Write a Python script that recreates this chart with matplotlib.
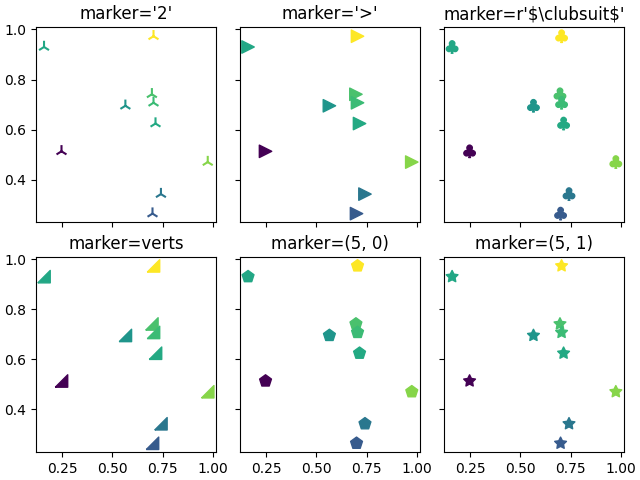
import matplotlib
matplotlib.use("Agg")
import matplotlib.pyplot as plt

# point positions
x = [0.705, 0.16, 0.697, 0.705, 0.565, 0.715, 0.247, 0.975, 0.742, 0.70]
y = [0.973, 0.93, 0.741, 0.707, 0.695, 0.624, 0.513, 0.47, 0.342, 0.264]
# colour values (distance from origin)
z = [1.197, 0.944, 1.017, 0.998, 0.896, 0.949, 0.569, 1.083, 0.817, 0.748]

verts = [[-1, -1], [1, -1], [1, 1], [-1, -1]]

markers = ['2', '>', r'$\clubsuit$', verts, (5, 0), (5, 1)]
titles = ["marker='2'", "marker='>'", r"marker=r'\$\clubsuit\$'",
          "marker=verts", "marker=(5, 0)", "marker=(5, 1)"]

fig, axs = plt.subplots(2, 3, sharex=True, sharey=True, figsize=(6.4, 4.8), dpi=100)

for ax, m, t in zip(axs.flat, markers, titles):
    ax.scatter(x, y, s=80, c=z, marker=m)
    ax.set_title(t)

fig.subplots_adjust(left=0.056, right=0.975, top=0.943, bottom=0.058,
                    wspace=0.133, hspace=0.177)
plt.savefig("out.png")
